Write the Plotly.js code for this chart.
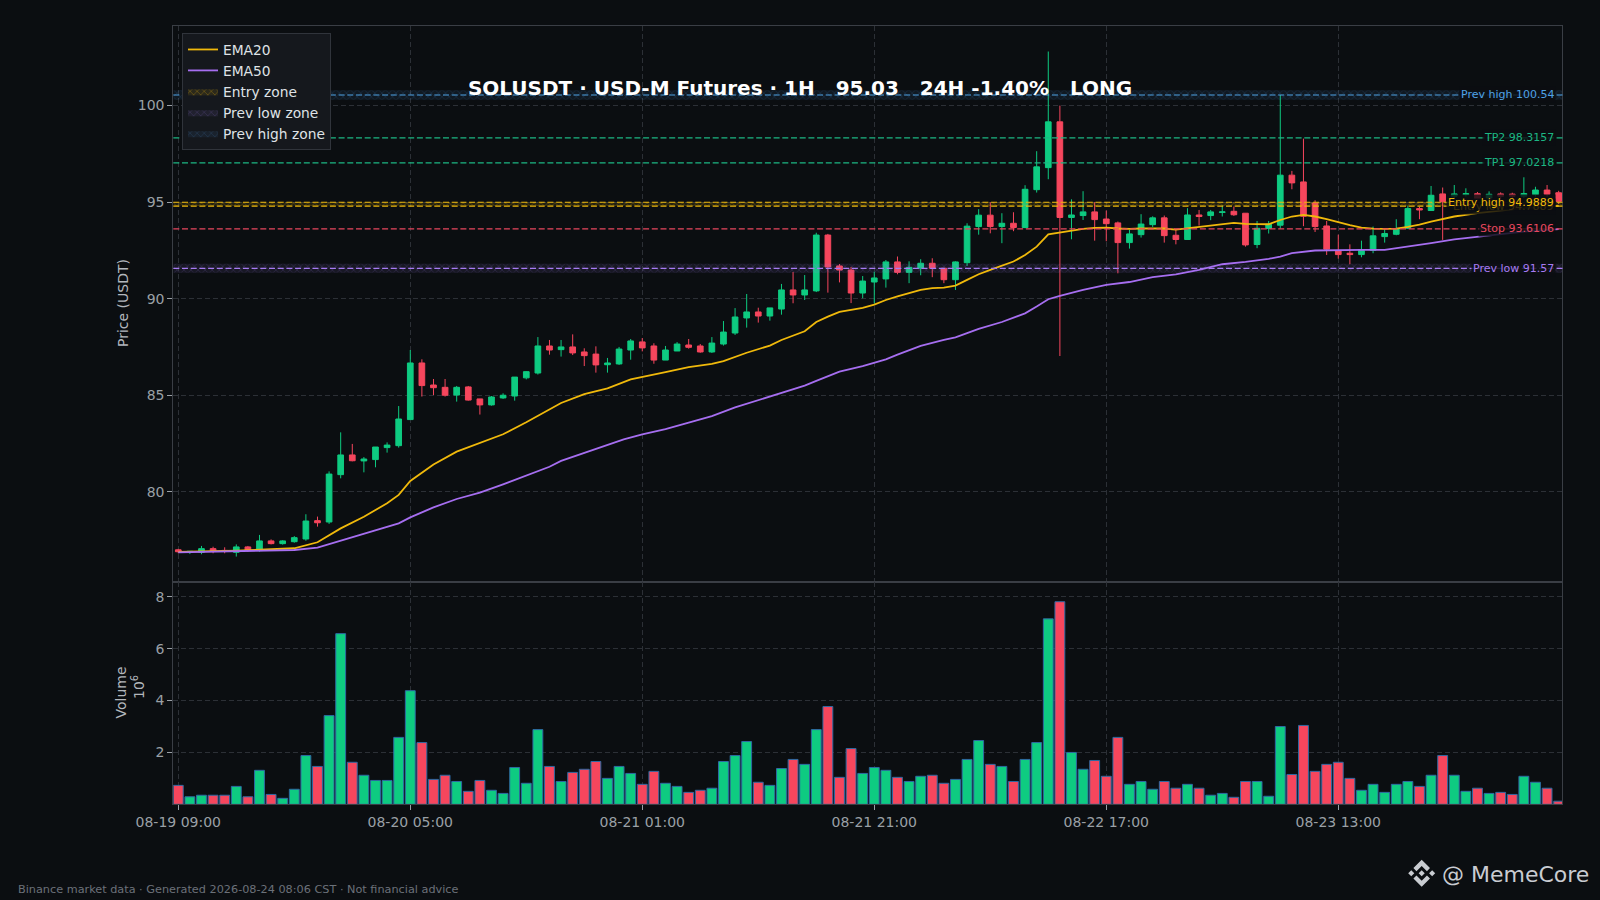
<!DOCTYPE html>
<html><head><meta charset="utf-8">
<script src="https://cdn.plot.ly/plotly-3.0.1.min.js"></script>
<style>html,body{margin:0;padding:0;background:#0b0e11;}#chart{width:1600px;height:900px;}</style>
</head><body><div id="chart"></div>
<script>
// ---- data ----
const tickPositions = [0, 20, 40, 60, 80, 100];
const tickLabels = ['08-19 09:00','08-20 05:00','08-21 01:00','08-21 21:00','08-22 17:00','08-23 13:00'];
const candleCount = 120;
const candleIndex = Array.from({length: candleCount}, (_, i) => i);

const open = [77.0,76.9,76.87,77.06,76.97,76.87,77.15,76.96,77.46,77.32,
 77.42,77.56,78.51,78.44,80.89,81.91,81.6,81.67,82.29,82.39,
 83.74,86.67,85.53,85.41,85.01,85.43,84.81,84.5,84.86,84.96,
 85.9,86.15,87.55,87.36,87.5,87.24,87.13,86.58,86.62,87.34,
 87.76,87.55,86.82,87.29,87.6,87.55,87.24,87.65,88.22,89.0,
 89.31,89.1,89.46,90.45,90.19,90.4,93.29,91.69,91.48,90.29,
 90.86,91.02,91.9,91.36,91.57,91.83,91.57,90.98,91.86,93.73,
 94.32,93.73,93.9,93.68,95.64,96.78,99.15,94.2,94.3,94.49,
 94.12,93.92,92.9,93.31,93.83,94.18,93.28,93.06,94.33,94.3,
 94.46,94.52,94.42,92.8,93.63,93.8,96.39,96.04,94.95,93.76,
 92.49,92.35,92.28,92.49,93.21,93.33,93.64,94.66,94.56,95.42,
 95.3,95.38,95.43,95.2,95.42,95.41,95.3,95.38,95.62,95.48];
const high = [77.05,76.93,77.2,77.16,77.13,77.28,77.2,77.77,77.54,77.5,
 77.71,78.84,78.72,81.06,83.08,82.48,81.8,82.32,82.56,84.44,
 87.34,86.86,85.84,85.84,85.48,85.48,84.81,84.96,85.1,85.94,
 86.25,88.01,87.86,87.86,88.15,87.43,87.53,86.93,87.5,87.91,
 87.96,87.69,87.55,87.75,87.91,87.65,88.01,88.84,89.51,90.24,
 89.53,89.52,90.76,91.38,91.22,93.41,93.35,91.79,91.64,91.17,
 91.4,92.0,92.18,91.93,92.04,92.09,91.57,91.93,93.9,94.63,
 94.99,94.42,94.47,95.87,97.63,102.79,99.99,95.14,95.56,94.99,
 94.56,93.99,93.56,94.37,94.26,94.3,93.59,94.68,94.59,94.59,
 94.81,94.77,94.42,94.02,94.02,100.54,96.61,98.28,95.09,94.02,
 93.31,92.81,93.0,93.73,93.59,94.11,94.8,94.76,95.83,95.75,
 95.88,95.71,95.52,95.55,95.5,95.48,96.28,95.79,95.88,95.58];
const low = [76.82,76.78,76.77,76.82,76.82,76.65,76.9,76.9,77.28,77.27,
 77.37,77.47,78.2,78.34,80.7,81.58,81.01,81.27,82.03,82.29,
 83.72,84.93,85.01,84.93,84.67,84.72,84.0,84.46,84.81,84.72,
 85.82,86.07,87.1,87.0,87.08,86.51,86.17,86.17,86.57,86.84,
 87.27,86.63,86.82,87.29,87.41,87.2,87.19,87.57,88.12,88.5,
 88.76,88.86,89.17,89.76,89.93,90.34,90.31,90.84,89.77,90.02,
 89.74,90.57,91.26,90.8,91.21,91.11,90.8,90.45,91.69,93.31,
 93.38,92.87,93.49,93.64,95.49,96.18,87.03,93.07,94.07,93.0,
 92.97,91.31,92.59,93.16,93.71,92.9,92.81,93.04,93.78,94.06,
 94.25,94.28,92.69,92.61,93.37,93.62,95.66,93.75,93.45,92.26,
 92.07,91.78,92.14,92.35,92.9,93.28,93.61,94.11,94.56,93.04,
 94.6,95.28,95.1,95.1,94.75,95.2,95.2,95.28,95.28,94.9];
const close = [76.9,76.92,77.06,76.92,76.93,77.15,76.96,77.46,77.32,77.46,
 77.63,78.49,78.4,80.92,81.91,81.61,81.7,82.32,82.42,83.77,
 86.67,85.5,85.39,85.0,85.41,84.75,84.5,84.91,85.0,85.94,
 86.22,87.55,87.34,87.5,87.19,87.05,86.57,86.67,87.39,87.81,
 87.45,86.82,87.34,87.65,87.48,87.24,87.7,88.27,89.05,89.31,
 89.1,89.52,90.45,90.19,90.45,93.29,91.64,91.48,90.29,90.91,
 91.07,91.9,91.36,91.62,91.83,91.57,90.98,91.9,93.75,94.32,
 93.73,93.9,93.68,95.66,96.82,99.15,94.2,94.33,94.49,94.09,
 93.88,92.9,93.35,93.86,94.18,93.26,93.06,94.33,94.25,94.49,
 94.49,94.34,92.78,93.64,93.85,96.39,95.99,94.26,93.73,92.56,
 92.28,92.28,92.49,93.25,93.37,93.61,94.66,94.59,95.35,95.02,
 95.42,95.43,95.17,95.4,95.3,95.3,95.44,95.62,95.4,95.03];
// volume in millions (axis offset x10^6)
const volumeM = [0.73,0.29,0.35,0.35,0.35,0.69,0.29,1.31,0.38,0.23,
 0.58,1.88,1.46,3.42,6.58,1.62,1.12,0.92,0.92,2.58,
 4.38,2.38,0.96,1.12,0.88,0.5,0.92,0.54,0.42,1.42,
 0.81,2.88,1.46,0.88,1.23,1.35,1.65,1.0,1.46,1.19,
 0.77,1.27,0.81,0.69,0.46,0.54,0.62,1.65,1.88,2.42,
 0.85,0.73,1.38,1.73,1.54,2.88,3.77,1.04,2.15,1.19,
 1.42,1.31,1.04,0.88,1.08,1.12,0.81,0.96,1.73,2.46,
 1.54,1.46,0.88,1.73,2.38,7.15,7.81,2.0,1.35,1.69,
 1.08,2.58,0.77,0.88,0.58,0.88,0.62,0.77,0.62,0.35,
 0.42,0.27,0.88,0.88,0.31,3.0,1.15,3.04,1.27,1.54,
 1.62,1.0,0.54,0.77,0.46,0.77,0.88,0.69,1.12,1.88,
 1.12,0.5,0.62,0.42,0.46,0.38,1.08,0.85,0.62,0.12];
// EMA values (candle index, price)
const ema20X = [0,5,10,12,14,16,18,19,20,22,24,26,28,30,32,33,35,37,39,40,42,44,46,47,49,51,52,54,55,56,57,59,60,61,62,64,65,66,67,68,69,70,71,72,73,74,75,76,77,78,79,80,81,82,83,84,85,86,87,88,89,90,91,92,94,95,96,97,98,99,100,101,102,103,104,105,106,107,108,109,110,112,114,116,119];
const ema20Val = [76.89,76.96,77.08,77.39,78.11,78.71,79.41,79.84,80.56,81.42,82.08,82.55,82.98,83.6,84.24,84.6,85.06,85.36,85.82,85.96,86.2,86.46,86.62,86.77,87.2,87.57,87.86,88.31,88.79,89.07,89.31,89.52,89.69,89.93,90.12,90.45,90.54,90.57,90.67,90.97,91.26,91.49,91.71,91.92,92.26,92.69,93.33,93.42,93.52,93.61,93.66,93.68,93.63,93.61,93.63,93.64,93.63,93.57,93.64,93.73,93.8,93.87,93.92,93.87,93.85,94.07,94.25,94.33,94.25,94.11,93.94,93.8,93.68,93.62,93.61,93.62,93.71,93.83,93.99,94.11,94.25,94.42,94.54,94.68,94.8];
const ema50X = [0,10,12,14,16,18,19,20,22,24,26,28,30,32,33,38.4,40,42,44,46,48,50,52,54,55,57,59,61,62,64,66,67,68,69,71,72,73,74,75,76,78,80,82,84,86,88,90,92,94,95,96,98,100,102,104,106,108,110,112,114,116,119];
const ema50Val = [76.87,76.99,77.11,77.47,77.85,78.2,78.37,78.68,79.2,79.63,79.96,80.39,80.84,81.3,81.6,82.72,82.98,83.25,83.58,83.92,84.37,84.74,85.15,85.5,85.74,86.22,86.51,86.86,87.1,87.55,87.86,88.0,88.21,88.43,88.79,89.02,89.24,89.59,89.97,90.14,90.45,90.71,90.86,91.11,91.26,91.49,91.78,91.9,92.06,92.18,92.35,92.49,92.52,92.52,92.52,92.69,92.87,93.07,93.21,93.35,93.47,93.6];
// key levels
const levelLabels = ['Prev high 100.54','TP2 98.3157','TP1 97.0218','Entry low 94.7889','Entry high 94.9889','Stop 93.6106','Prev low 91.57'];
const levelValues = [100.54, 98.3157, 97.0218, 94.7889, 94.9889, 93.6106, 91.57];
// zones
const zoneNames = ['Entry zone','Prev low zone','Prev high zone'];
const zoneLow = [94.7889, 91.34, 100.29];
const zoneHigh = [94.9889, 91.80, 100.79];
const titleText = 'SOLUSDT · USD-M Futures · 1H\u00a0\u00a0\u00a095.03\u00a0\u00a0\u00a024H -1.40%\u00a0\u00a0\u00a0LONG';
const footerText = 'Binance market data · Generated 2026-08-24 08:06 CST · Not financial advice';

// ---- style ----
const FONT = 'DejaVu Sans, Verdana, sans-serif';
const BG = '#0b0e11';
const GREEN = '#0ecb81', RED = '#f6465d';
const GRID = '#2c3036', SPINE = '#3a3e45', TICKC = '#9aa0a6';
const levelColors = ['#4fa3e6','#1cb783','#1cb783','#f0b90b','#f0b90b','#e8475e','#a77bf3'];
const zoneFill = ['rgba(240,185,11,0.10)','rgba(150,120,230,0.09)','rgba(80,150,220,0.08)'];
const zonePattern = ['rgba(240,185,11,0.35)','rgba(150,120,230,0.20)','rgba(80,150,220,0.18)'];
const xRange = [-0.43, 119.33];
const xDom = [0.10831, 0.97656];

const traces = [];
zoneNames.forEach((n, k) => {
  traces.push({
    type: 'scatter', mode: 'lines', name: n, legendrank: 3 + k,
    x: [xRange[0], xRange[1], xRange[1], xRange[0], xRange[0]],
    y: [zoneLow[k], zoneLow[k], zoneHigh[k], zoneHigh[k], zoneLow[k]],
    fill: 'toself', fillcolor: zoneFill[k], line: {width: 0, color: 'rgba(0,0,0,0)'},
    fillpattern: {shape: 'x', fgcolor: zonePattern[k], bgcolor: zoneFill[k], size: 5, solidity: 0.25},
    xaxis: 'x', yaxis: 'y', hoverinfo: 'skip'
  });
});
traces.push({type:'scatter', mode:'lines', name:'EMA20', legendrank:1, x: ema20X, y: ema20Val,
  line:{color:'#f0b90b', width:1.8}, xaxis:'x', yaxis:'y'});
traces.push({type:'scatter', mode:'lines', name:'EMA50', legendrank:2, x: ema50X, y: ema50Val,
  line:{color:'#a66ef0', width:1.8}, xaxis:'x', yaxis:'y'});
traces.push({type:'candlestick', x: candleIndex, open, high, low, close, showlegend:false,
  increasing:{line:{color:GREEN, width:1}, fillcolor:GREEN},
  decreasing:{line:{color:RED, width:1}, fillcolor:RED},
  xaxis:'x', yaxis:'y', hoverinfo:'skip'});
traces.push({type:'bar', x: candleIndex, y: volumeM, showlegend:false,
  marker:{color: candleIndex.map(i => close[i] >= open[i] ? GREEN : RED), line:{color:'#2e6aa3', width:1}},
  xaxis:'x2', yaxis:'y2', hoverinfo:'skip'});

const shapes = levelValues.map((v, k) => ({
  type:'line', xref:'x domain', yref:'y', x0:0, x1:1, y0:v, y1:v,
  line:{color: levelColors[k], width:1.2, dash:'6px,2.7px'}, layer:'above'
}));
// logo icon (diamond mark)
const iconPath = 'M-5.24,-2.15 L0,-7.39 L5.25,-2.15 L8.3,-5.2 L0,-13.5 L-8.29,-5.2 Z ' +
  'M-5.24,2.15 L0,7.39 L5.25,2.15 L8.3,5.2 L0,13.5 L-8.29,5.2 Z ' +
  'M-13.5,0 L-10.45,-3.05 L-7.4,0 L-10.45,3.05 Z ' +
  'M13.5,0 L10.45,-3.05 L7.4,0 L10.45,3.05 Z ' +
  'M0,-3.05 L3.05,0 L0,3.05 L-3.05,0 Z';
shapes.push({type:'path', xref:'paper', yref:'paper', xsizemode:'pixel', ysizemode:'pixel',
  xanchor: 1421.7/1600, yanchor: 1 - 873.3/900, path: iconPath,
  fillcolor:'#c9ccd1', line:{width:0}});

const annotations = levelValues.map((v, k) => ({
  xref:'x domain', yref:'y', x:0.9955, y:v, xanchor:'right', yanchor:'middle',
  text: levelLabels[k], showarrow:false, font:{family:FONT, size:11, color:levelColors[k]},
  bgcolor:'rgba(11,14,17,0.82)', borderpad:1
}));
annotations.push(
  {xref:'paper', yref:'paper', x:122.5/1600, y:1-303.5/900, text:'Price (USDT)', textangle:-90, showarrow:false,
   font:{family:FONT, size:14, color:'#b3b7bd'}, xanchor:'center', yanchor:'middle'},
  {xref:'paper', yref:'paper', x:120/1600, y:1-692.5/900, text:'Volume', textangle:-90, showarrow:false,
   font:{family:FONT, size:14, color:'#b3b7bd'}, xanchor:'center', yanchor:'middle'},
  {xref:'paper', yref:'paper', x:138/1600, y:1-687/900, text:'10<sup>6</sup>', textangle:-90, showarrow:false,
   font:{family:FONT, size:14, color:'#b3b7bd'}, xanchor:'center', yanchor:'middle'},
  {xref:'paper', yref:'paper', x:16/1600, y:1-889/900, text: footerText, showarrow:false,
   font:{family:FONT, size:11.25, color:'#6b7179'}, xanchor:'left', yanchor:'middle'},
  {xref:'paper', yref:'paper', x:1591/1600, y:1-874/900, text:'@ MemeCore', showarrow:false,
   font:{family:FONT, size:22, color:'#c9ccd1'}, xanchor:'right', yanchor:'middle'}
);

const axisCommon = {showgrid:true, gridcolor:GRID, griddash:'5px,3px', gridwidth:1, zeroline:false,
  showline:true, mirror:true, linecolor:SPINE, linewidth:1, fixedrange:true};

const layout = {
  width:1600, height:900, paper_bgcolor:BG, plot_bgcolor:BG,
  margin:{l:0, r:0, t:0, b:0},
  font:{family:FONT, color:TICKC, size:14},
  hovermode:false, dragmode:false,
  bargap:0.15,
  title:{text:titleText, x:0.5, xanchor:'center', y:1-88/900, yanchor:'middle', yref:'container',
    font:{family:FONT, size:20, color:'#ffffff', weight:'bold'}},
  showlegend:true,
  legend:{x:182/1600, y:1-33/900, xanchor:'left', yanchor:'top', bgcolor:'#15181d',
    bordercolor:'#30343b', borderwidth:1, font:{family:FONT, size:13.8, color:'#dfe2e6'},
    traceorder:'normal', itemwidth:30},
  xaxis: Object.assign({}, axisCommon, {domain:xDom, range:xRange, anchor:'y', showticklabels:false,
    ticks:'', tickmode:'array', tickvals:tickPositions, rangeslider:{visible:false}}),
  yaxis: Object.assign({}, axisCommon, {domain:[1-581.5/900, 1-26/900], range:[75.36, 104.11], anchor:'x',
    tickmode:'array', tickvals:[80,85,90,95,100], ticks:'outside', ticklen:5, tickcolor:TICKC,
    tickfont:{family:FONT, size:14, color:TICKC}}),
  xaxis2: Object.assign({}, axisCommon, {domain:xDom, range:xRange, anchor:'y2',
    tickmode:'array', tickvals:tickPositions, ticktext:tickLabels, ticks:'outside', ticklen:5, tickcolor:TICKC,
    tickfont:{family:FONT, size:14, color:TICKC}}),
  yaxis2: Object.assign({}, axisCommon, {domain:[1-804.3/900, 1-581.5/900], range:[0, 8.59], anchor:'x2',
    tickmode:'array', tickvals:[2,4,6,8], ticks:'outside', ticklen:5, tickcolor:TICKC,
    tickfont:{family:FONT, size:14, color:TICKC}}),
  shapes, annotations
};

Plotly.newPlot('chart', traces, layout, {staticPlot:true, displayModeBar:false});
</script></body></html>
